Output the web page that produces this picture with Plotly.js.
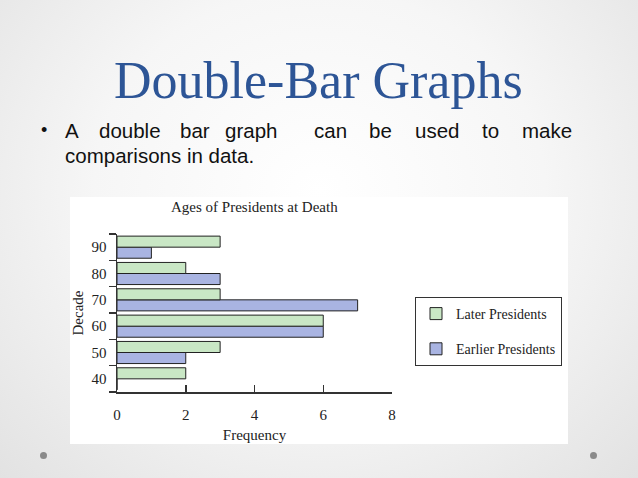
<!DOCTYPE html>
<html>
<head>
<meta charset="utf-8">
<script src="https://cdn.plot.ly/plotly-3.0.1.min.js"></script>
<style>
  html, body { margin: 0; padding: 0; }
  body { width: 638px; height: 478px; overflow: hidden;
    background: radial-gradient(ellipse at 50% 40%, #ffffff 0%, #f6f6f6 50%, #e2e2e2 100%); }
  #chart { width: 638px; height: 478px; }
</style>
</head>
<body>
<div id="chart"></div>
<script>
var decades = ["40", "50", "60", "70", "80", "90"];
var laterPresidents = [2, 3, 6, 3, 2, 3];
var earlierPresidents = [0, 2, 6, 7, 3, 1];
var freqTicks = [0, 2, 4, 6, 8];

var slideTitle = "Double-Bar Graphs";
var bulletLine1 = ["A", "double", "bar", "graph", "can", "be", "used", "to", "make"];
var bulletLine1X = [63, 97, 178, 223, 312, 367, 413, 480, 520];
var bulletLine2 = "comparisons in data.";

// plot area in pixels
var L = 117, R = 392, T = 234, B = 392;
function px(x) { return (x - L) / (R - L); }
function py(y) { return (B - y) / (B - T); }

var serif = "Liberation Serif, Times New Roman, serif";
var sans = "Liberation Sans, Arial, sans-serif";

var later = {
  type: "bar", orientation: "h", name: "Later Presidents",
  y: decades, x: laterPresidents, legendrank: 1, legendgroup: "later",
  marker: { color: "#c9e7c5", line: { color: "#222", width: 1 } }
};
var earlier = {
  type: "bar", orientation: "h", name: "Earlier Presidents",
  y: decades, x: earlierPresidents, legendrank: 2, legendgroup: "earlier",
  marker: { color: "#a9b4e2", line: { color: "#222", width: 1 } }
};

function note(text, x, y, anchor, font) {
  return { text: text, x: px(x), y: py(y), xref: "paper", yref: "paper",
    xanchor: anchor, yanchor: "middle", showarrow: false, font: font };
}

var bodyFont = { family: sans, size: 20.5, color: "#111" };
var annotations = [
  note(slideTitle, 318, 80, "center", { family: serif, size: 52, color: "#2d5596" }),
  note("Ages of Presidents at Death", 254, 207, "center", { family: serif, size: 15, color: "#222" }),
  note("•", 39, 130, "left", { family: sans, size: 18, color: "#111" }),
  note(bulletLine2, 63, 155, "left", bodyFont)
];
bulletLine1.forEach(function (w, i) {
  annotations.push(note(w, bulletLine1X[i], 130, "left", bodyFont));
});

var shapes = [
  { type: "rect", xref: "paper", yref: "paper", layer: "below",
    x0: px(70), x1: px(568), y0: py(197), y1: py(444),
    fillcolor: "#ffffff", line: { width: 0 } },
  { type: "circle", xref: "paper", yref: "paper",
    x0: px(40), x1: px(47), y0: py(452), y1: py(459),
    fillcolor: "#8a8a8a", line: { width: 0 } },
  { type: "circle", xref: "paper", yref: "paper",
    x0: px(590), x1: px(597), y0: py(452), y1: py(459),
    fillcolor: "#8a8a8a", line: { width: 0 } }
];

var layout = {
  width: 638, height: 478,
  margin: { l: L, r: 638 - R, t: T, b: 478 - B, pad: 0 },
  paper_bgcolor: "rgba(0,0,0,0)",
  plot_bgcolor: "rgba(0,0,0,0)",
  barmode: "group", bargap: 0.16, bargroupgap: 0,
  font: { family: serif, size: 15, color: "#222" },
  xaxis: {
    range: [0, 8], tickvals: freqTicks, showgrid: false, zeroline: false,
    showline: true, linecolor: "#333", linewidth: 1.5,
    ticks: "inside", ticklen: 7, tickwidth: 1.5, tickcolor: "#333",
    ticklabelstandoff: 8,
    title: { text: "Frequency", font: { family: serif, size: 15 }, standoff: 8 },
    tickfont: { family: serif, size: 15 }, fixedrange: true
  },
  yaxis: {
    type: "category", categoryarray: decades, range: [-0.5, 5.5],
    showgrid: false, zeroline: false, showline: true, linecolor: "#333", linewidth: 1.5,
    ticks: "outside", tickson: "boundaries", ticklen: 7, tickwidth: 1.2, tickcolor: "#333",
    ticklabelstandoff: 6,
    title: { text: "Decade", font: { family: serif, size: 15 }, standoff: 4 },
    tickfont: { family: serif, size: 15 }, fixedrange: true
  },
  legend: {
    x: px(415), y: py(297), xanchor: "left", yanchor: "top",
    bgcolor: "#ffffff", bordercolor: "#333", borderwidth: 1,
    traceorder: "grouped", tracegroupgap: 14,
    font: { family: serif, size: 14, color: "#222" }
  },
  annotations: annotations,
  shapes: shapes
};

Plotly.newPlot("chart", [earlier, later], layout, { displayModeBar: false, staticPlot: true });
</script>
</body>
</html>
